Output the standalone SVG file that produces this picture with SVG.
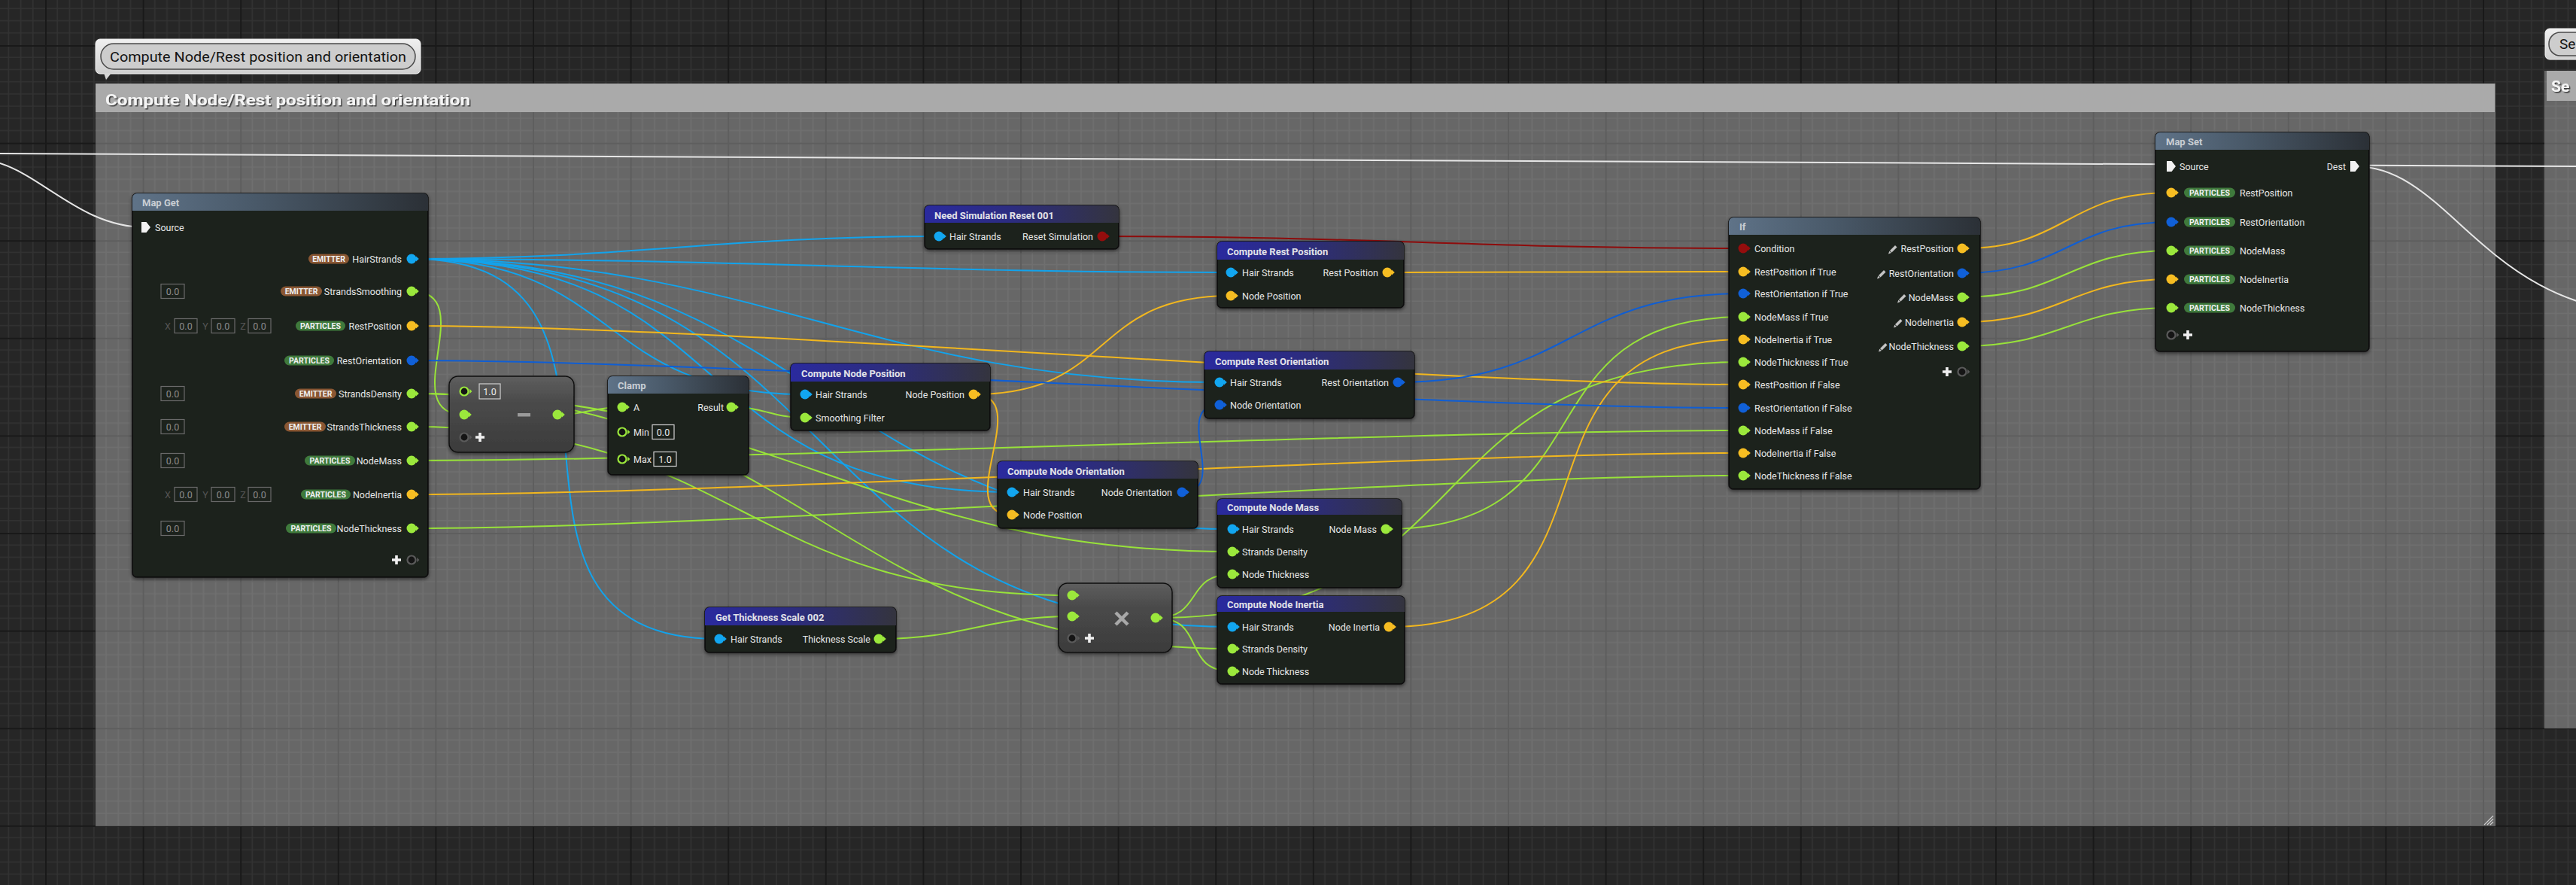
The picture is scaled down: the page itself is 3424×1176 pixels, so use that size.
<svg xmlns="http://www.w3.org/2000/svg" width="3424" height="1176" viewBox="0 0 3424 1176">
<style>
text{font-family:Roboto,"Liberation Sans",sans-serif}
.lbl{font-size:12.5px;fill:#e6e6e6}
.r{text-anchor:end}
.ttl{font-size:13px;font-weight:bold;fill:#e2e2e8}
.ttlg{font-size:13px;font-weight:bold;fill:#c9ced4}
.bdg{font-size:10.5px;font-weight:bold;fill:#f0f0f0;text-anchor:middle}
.be{fill:#8a5733}
.bp{fill:#3f7a3c}
.dv{font-size:12.5px;fill:#8c8c8c;text-anchor:middle}
.bv{font-size:12.5px;fill:#e8e8e8;text-anchor:middle}
.xyz{font-size:12.5px;fill:#555;text-anchor:middle}
.dbox{fill:none;stroke:#6a6a6a;stroke-width:1.2}
.bbox{fill:none;stroke:#d0d0d0;stroke-width:1.2}
.body{fill:#1e201f;stroke:#0b0b0b;stroke-width:1.5;filter:url(#sh)}
.op{fill:url(#opg);stroke:#111;stroke-width:1.5;filter:url(#sh)}
.hf{fill:url(#hfg)}
.hs{fill:url(#hsg)}
.w{fill:none;stroke-width:2;stroke-linecap:round}
.wb{stroke:#12a3ec}
.wg{stroke:#98e23a}
.wy{stroke:#f2b71e}
.wd{stroke:#0f5ed4}
.wr{stroke:#8e0b0b}
.ww{stroke:#e6e6e6}
.pb{fill:#12a6f0}
.pg{fill:#9be83c}
.py{fill:#f6bd22}
.pd{fill:#1060d8}
.pr{fill:#950d0d}
</style>
<defs>
<pattern id="grid" patternUnits="userSpaceOnUse" x="60" y="60" width="129.6" height="129.6">
<rect width="129.6" height="129.6" fill="#262626"/>
<path d="M16.2,0V129.6M32.4,0V129.6M48.6,0V129.6M64.8,0V129.6M81,0V129.6M97.2,0V129.6M113.4,0V129.6M0,16.2H129.6M0,32.4H129.6M0,48.6H129.6M0,64.8H129.6M0,81H129.6M0,97.2H129.6M0,113.4H129.6" stroke="#323232" stroke-width="1.6"/>
<rect x="0" y="0" width="2" height="129.6" fill="#191919"/>
<rect x="0" y="0" width="129.6" height="2" fill="#191919"/>
</pattern>
<linearGradient id="hfg" x1="0" y1="0" x2="1" y2="0"><stop offset="0" stop-color="#2a2a9e"/><stop offset=".45" stop-color="#2c2c80"/><stop offset="1" stop-color="#34343e"/></linearGradient>
<linearGradient id="hsg" x1="0" y1="0" x2="1" y2="0"><stop offset="0" stop-color="#5f7388"/><stop offset=".4" stop-color="#4a5a6a"/><stop offset="1" stop-color="#2b3036"/></linearGradient>
<linearGradient id="opg" x1="0" y1="0" x2="0" y2="1"><stop offset="0" stop-color="#5e5e5e"/><stop offset=".35" stop-color="#4a4a4a"/><stop offset="1" stop-color="#3b3b3b"/></linearGradient>
<linearGradient id="bub" x1="0" y1="0" x2="0" y2="1"><stop offset="0" stop-color="#f0f0f0"/><stop offset="1" stop-color="#cfcfcf"/></linearGradient>
<filter id="sh" x="-10%" y="-10%" width="120%" height="130%"><feDropShadow dx="0" dy="2" stdDeviation="2.5" flood-color="#000" flood-opacity="0.55"/></filter>
<filter id="ts" x="-5%" y="-30%" width="110%" height="160%"><feDropShadow dx="1.5" dy="1.5" stdDeviation="0.5" flood-color="#303030" flood-opacity="0.9"/></filter>
<g id="pin"><circle r="6.5"/><path d="M6,-3.6L9.8,0L6,3.6Z"/></g>
<g id="hpin"><circle r="5.5" fill="#151515" stroke-width="2.2"/><path d="M7.2,-3.3L10.4,0L7.2,3.3Z" stroke="none"/></g>
<path id="mpin" d="M-6,-7H0.5L6,0L0.5,7H-6Z" fill="#f2f2f2"/>
<path id="plus" d="M-1.8,-6H1.8V-1.8H6V1.8H1.8V6H-1.8V1.8H-6V-1.8H-1.8Z" fill="#f0f0f0"/>
<g id="pen" fill="#c4c4c4"><path d="M-4,3L3,-4L5.5,-1.5L-1.5,5.5Z"/><path d="M-4.6,3.6L-2.1,6.1L-6,7.5Z"/></g>
</defs>

<rect width="3424" height="1176" fill="url(#grid)"/>

<g id="comment-main">
<rect x="127" y="111" width="3190" height="987" fill="#ffffff" fill-opacity="0.3"/>
<rect x="127" y="111" width="3189" height="38" fill="#aaaaaa"/>
<text x="140" y="140" font-size="21" font-weight="bold" fill="#f4f4f4" textLength="485" lengthAdjust="spacingAndGlyphs" filter="url(#ts)">Compute Node/Rest position and orientation</text>
<path d="M3302,1096L3314,1084M3306,1096L3314,1088M3310,1096L3314,1092" stroke="#d0d0d0" stroke-width="1.2"/>
<rect x="127" y="52" width="432" height="46" rx="6" fill="url(#bub)" stroke="#f5f5f5"/>
<path d="M138,97L148,97L141,106Z" fill="#d6d6d6"/>
<rect x="134" y="58" width="418" height="34" rx="17" fill="#cdcdcd" stroke="#4a4a4a" stroke-width="1.5"/>
<text x="146" y="82" font-size="19" fill="#141414" textLength="394" lengthAdjust="spacingAndGlyphs">Compute Node/Rest position and orientation</text>
</g>

<g id="comment-right">
<rect x="3382" y="94" width="60" height="874" fill="#ffffff" fill-opacity="0.3"/>
<rect x="3385" y="94" width="60" height="40" fill="#aaaaaa"/>
<text x="3391" y="122" font-size="21" font-weight="bold" fill="#f4f4f4" filter="url(#ts)">Se</text>
<rect x="3383" y="38" width="60" height="41" rx="6" fill="url(#bub)" stroke="#f5f5f5"/>
<rect x="3388" y="43" width="60" height="31" rx="15" fill="#cdcdcd" stroke="#4a4a4a" stroke-width="1.5"/>
<text x="3402" y="65" font-size="19" fill="#141414">Se</text>
</g>

<g id="connectors">
<path class="w ww" d="M0,204C1100,206 2200,221 3424,221"/>
<path class="w ww" d="M0,217C60,236 110,302 194,302"/>
<path class="w ww" d="M3130,221C3260,221 3300,418 3540,418"/>
<path class="w wb" d="M547,344C839,344 956,314 1248,314"/>
<path class="w wb" d="M547,344C954,344 1229,362 1636,362"/>
<path class="w wb" d="M547,344C828,344 789,524 1070,524"/>
<path class="w wb" d="M547,344C990,344 902,654 1345,654"/>
<path class="w wb" d="M547,344C1013,344 1155,508 1621,508"/>
<path class="w wb" d="M547,344C1091,344 1094,703 1638,703"/>
<path class="w wb" d="M547,344C1143,344 1042,833 1638,833"/>
<path class="w wb" d="M547,344C913,344 590,849 956,849"/>
<path class="w wg" d="M547,387C641,387 523,551 617,551"/>
<path class="w wg" d="M741,551C779,551 789,541 827,541"/>
<path class="w wg" d="M972,541C1017,541 1025,555 1070,555"/>
<path class="w wg" d="M547,523C1031,523 1154,733 1638,733"/>
<path class="w wg" d="M547,523C1083,523 1102,862 1638,862"/>
<path class="w wg" d="M547,567C988,567 984,791 1425,791"/>
<path class="w wg" d="M1168,849C1283,849 1310,819 1425,819"/>
<path class="w wg" d="M1536,821C1600,821 1574,763 1638,763"/>
<path class="w wg" d="M1536,821C1605,821 1569,892 1638,892"/>
<path class="w wg" d="M1536,821C1984,821 1869,481 2317,481"/>
<path class="w wg" d="M1842,703C2145,703 2014,421 2317,421"/>
<path class="w wg" d="M547,612C963,612 1901,572 2317,572"/>
<path class="w wg" d="M547,702C975,702 1889,632 2317,632"/>
<path class="w wg" d="M2608,395C2744,395 2750,333 2886,333"/>
<path class="w wg" d="M2608,460C2740,460 2754,409 2886,409"/>
<path class="w wy" d="M547,433C978,433 1886,511 2317,511"/>
<path class="w wy" d="M547,657C969,657 1895,602 2317,602"/>
<path class="w wy" d="M1294,524C1483,524 1447,393 1636,393"/>
<path class="w wy" d="M1294,524C1378,524 1261,684 1345,684"/>
<path class="w wy" d="M1844,362C2034,362 2127,361 2317,361"/>
<path class="w wy" d="M1846,833C2187,833 1976,451 2317,451"/>
<path class="w wy" d="M2608,330C2749,330 2745,256 2886,256"/>
<path class="w wy" d="M2608,428C2742,428 2752,371 2886,371"/>
<path class="w wd" d="M547,479C972,479 1892,542 2317,542"/>
<path class="w wd" d="M1571,654C1637,654 1555,538 1621,538"/>
<path class="w wd" d="M1858,508C2089,508 2086,390 2317,390"/>
<path class="w wd" d="M2608,363C2746,363 2748,295 2886,295"/>
<path class="w wr" d="M1465,314C1812,314 1970,330 2317,330"/>
</g>

<g id="map-get">
<rect class="body" x="176" y="257" width="393" height="510" rx="6"/>
<path class="hs" d="M176,280V263a6,6 0 0 1 6,-6H563a6,6 0 0 1 6,6V280Z"/>
<text class="ttlg" x="189" y="274">Map Get</text>
<use href="#mpin" x="194" y="302"/>
<text class="lbl" x="206" y="306.5">Source</text>
<rect class="be" x="410" y="337.5" width="54" height="13" rx="6.5"/><text class="bdg" x="437" y="348">EMITTER</text>
<text class="lbl r" x="534" y="348.5">HairStrands</text><use href="#pin" x="547" y="344" class="pb"/>
<rect class="dbox" x="214" y="377.5" width="31" height="19"/><text class="dv" x="229.5" y="391.5">0.0</text>
<rect class="be" x="373" y="380.5" width="55" height="13" rx="6.5"/><text class="bdg" x="400.5" y="391">EMITTER</text>
<text class="lbl r" x="534" y="391.5">StrandsSmoothing</text><use href="#pin" x="547" y="387" class="pg"/>
<text class="xyz" x="223" y="437.5">X</text><rect class="dbox" x="232" y="423.5" width="30" height="19"/><text class="dv" x="247" y="437.5">0.0</text>
<text class="xyz" x="273" y="437.5">Y</text><rect class="dbox" x="281" y="423.5" width="31" height="19"/><text class="dv" x="296.5" y="437.5">0.0</text>
<text class="xyz" x="323" y="437.5">Z</text><rect class="dbox" x="330" y="423.5" width="30" height="19"/><text class="dv" x="345" y="437.5">0.0</text>
<rect class="bp" x="393" y="426.5" width="66" height="13" rx="6.5"/><text class="bdg" x="426" y="437">PARTICLES</text>
<text class="lbl r" x="534" y="437.5">RestPosition</text><use href="#pin" x="547" y="433" class="py"/>
<rect class="bp" x="378" y="472.5" width="66" height="13" rx="6.5"/><text class="bdg" x="411" y="483">PARTICLES</text>
<text class="lbl r" x="534" y="483.5">RestOrientation</text><use href="#pin" x="547" y="479" class="pd"/>
<rect class="dbox" x="214" y="513.5" width="31" height="19"/><text class="dv" x="229.5" y="527.5">0.0</text>
<rect class="be" x="392" y="516.5" width="55" height="13" rx="6.5"/><text class="bdg" x="419.5" y="527">EMITTER</text>
<text class="lbl r" x="534" y="527.5">StrandsDensity</text><use href="#pin" x="547" y="523" class="pg"/>
<rect class="dbox" x="214" y="557.5" width="31" height="19"/><text class="dv" x="229.5" y="571.5">0.0</text>
<rect class="be" x="378" y="560.5" width="55" height="13" rx="6.5"/><text class="bdg" x="405.5" y="571">EMITTER</text>
<text class="lbl r" x="534" y="571.5">StrandsThickness</text><use href="#pin" x="547" y="567" class="pg"/>
<rect class="dbox" x="214" y="602.5" width="31" height="19"/><text class="dv" x="229.5" y="616.5">0.0</text>
<rect class="bp" x="405" y="605.5" width="67" height="13" rx="6.5"/><text class="bdg" x="438.5" y="616">PARTICLES</text>
<text class="lbl r" x="534" y="616.5">NodeMass</text><use href="#pin" x="547" y="612" class="pg"/>
<text class="xyz" x="223" y="661.5">X</text><rect class="dbox" x="232" y="647.5" width="30" height="19"/><text class="dv" x="247" y="661.5">0.0</text>
<text class="xyz" x="273" y="661.5">Y</text><rect class="dbox" x="281" y="647.5" width="31" height="19"/><text class="dv" x="296.5" y="661.5">0.0</text>
<text class="xyz" x="323" y="661.5">Z</text><rect class="dbox" x="330" y="647.5" width="30" height="19"/><text class="dv" x="345" y="661.5">0.0</text>
<rect class="bp" x="400" y="650.5" width="66" height="13" rx="6.5"/><text class="bdg" x="433" y="661">PARTICLES</text>
<text class="lbl r" x="534" y="661.5">NodeInertia</text><use href="#pin" x="547" y="657" class="py"/>
<rect class="dbox" x="214" y="692.5" width="31" height="19"/><text class="dv" x="229.5" y="706.5">0.0</text>
<rect class="bp" x="380" y="695.5" width="67" height="13" rx="6.5"/><text class="bdg" x="413.5" y="706">PARTICLES</text>
<text class="lbl r" x="534" y="706.5">NodeThickness</text><use href="#pin" x="547" y="702" class="pg"/>
<use href="#plus" x="527" y="744"/>
<use href="#hpin" x="547" y="744" fill="#5a5a5a" stroke="#5a5a5a"/>
</g>

<g id="subtract">
<rect class="op" x="597" y="500" width="166" height="101" rx="12"/>
<use href="#hpin" x="617" y="520" fill="#9be83c" stroke="#9be83c"/>
<rect class="bbox" x="637" y="510" width="28" height="20"/><text class="bv" x="651" y="524.5">1.0</text>
<use href="#pin" x="617" y="551" class="pg"/>
<use href="#hpin" x="617" y="581" fill="#5a5a5a" stroke="#5a5a5a"/>
<use href="#plus" x="638" y="581"/>
<rect x="688" y="549" width="17" height="4.5" fill="#9a9a9a"/>
<use href="#pin" x="741" y="551" class="pg"/>
</g>

<g id="clamp">
<rect class="body" x="808" y="500" width="187" height="131" rx="6"/>
<path class="hs" d="M808,523V506a6,6 0 0 1 6,-6H989a6,6 0 0 1 6,6V523Z"/>
<text class="ttlg" x="821" y="517">Clamp</text>
<use href="#pin" x="827" y="541" class="pg"/><text class="lbl" x="842" y="545.5">A</text>
<text class="lbl r" x="962" y="545.5">Result</text><use href="#pin" x="972" y="541" class="pg"/>
<use href="#hpin" x="827" y="574" fill="#9be83c" stroke="#9be83c"/><text class="lbl" x="842" y="578.5">Min</text>
<rect class="bbox" x="867" y="564.5" width="29" height="19"/><text class="bv" x="881.5" y="578.5">0.0</text>
<use href="#hpin" x="827" y="610" fill="#9be83c" stroke="#9be83c"/><text class="lbl" x="842" y="614.5">Max</text>
<rect class="bbox" x="869" y="600.5" width="30" height="19"/><text class="bv" x="884" y="614.5">1.0</text>
</g>

<g id="need-simulation-reset">
<rect class="body" x="1229" y="273" width="258" height="58" rx="6"/>
<path class="hf" d="M1229,296V279a6,6 0 0 1 6,-6H1481a6,6 0 0 1 6,6V296Z"/>
<text class="ttl" x="1242" y="291">Need Simulation Reset 001</text>
<use href="#pin" x="1248" y="314" class="pb"/><text class="lbl" x="1262" y="318.5">Hair Strands</text>
<text class="lbl r" x="1453" y="318.5">Reset Simulation</text><use href="#pin" x="1465" y="314" class="pr"/>
</g>

<g id="compute-node-position">
<rect class="body" x="1051" y="483" width="265" height="89" rx="6"/>
<path class="hf" d="M1051,507V489a6,6 0 0 1 6,-6H1310a6,6 0 0 1 6,6V507Z"/>
<text class="ttl" x="1065" y="501">Compute Node Position</text>
<use href="#pin" x="1070" y="524" class="pb"/><text class="lbl" x="1084" y="528.5">Hair Strands</text>
<use href="#pin" x="1070" y="555" class="pg"/><text class="lbl" x="1084" y="559.5">Smoothing Filter</text>
<text class="lbl r" x="1282" y="528.5">Node Position</text><use href="#pin" x="1294" y="524" class="py"/>
</g>

<g id="compute-node-orientation">
<rect class="body" x="1326" y="613" width="266" height="89" rx="6"/>
<path class="hf" d="M1326,636V619a6,6 0 0 1 6,-6H1586a6,6 0 0 1 6,6V636Z"/>
<text class="ttl" x="1339" y="631">Compute Node Orientation</text>
<use href="#pin" x="1345" y="654" class="pb"/><text class="lbl" x="1360" y="658.5">Hair Strands</text>
<use href="#pin" x="1345" y="684" class="py"/><text class="lbl" x="1360" y="688.5">Node Position</text>
<text class="lbl r" x="1558" y="658.5">Node Orientation</text><use href="#pin" x="1571" y="654" class="pd"/>
</g>

<g id="compute-rest-position">
<rect class="body" x="1618" y="321" width="248" height="88" rx="6"/>
<path class="hf" d="M1618,345V327a6,6 0 0 1 6,-6H1860a6,6 0 0 1 6,6V345Z"/>
<text class="ttl" x="1631" y="339">Compute Rest Position</text>
<use href="#pin" x="1636" y="362" class="pb"/><text class="lbl" x="1651" y="366.5">Hair Strands</text>
<use href="#pin" x="1636" y="393" class="py"/><text class="lbl" x="1651" y="397.5">Node Position</text>
<text class="lbl r" x="1832" y="366.5">Rest Position</text><use href="#pin" x="1844" y="362" class="py"/>
</g>

<g id="compute-rest-orientation">
<rect class="body" x="1601" y="467" width="279" height="89" rx="6"/>
<path class="hf" d="M1601,491V473a6,6 0 0 1 6,-6H1874a6,6 0 0 1 6,6V491Z"/>
<text class="ttl" x="1615" y="485">Compute Rest Orientation</text>
<use href="#pin" x="1621" y="508" class="pb"/><text class="lbl" x="1635" y="512.5">Hair Strands</text>
<use href="#pin" x="1621" y="538" class="pd"/><text class="lbl" x="1635" y="542.5">Node Orientation</text>
<text class="lbl r" x="1846" y="512.5">Rest Orientation</text><use href="#pin" x="1858" y="508" class="pd"/>
</g>

<g id="compute-node-mass">
<rect class="body" x="1618" y="663" width="245" height="118" rx="6"/>
<path class="hf" d="M1618,684V669a6,6 0 0 1 6,-6H1857a6,6 0 0 1 6,6V684Z"/>
<text class="ttl" x="1631" y="679">Compute Node Mass</text>
<use href="#pin" x="1638" y="703" class="pb"/><text class="lbl" x="1651" y="707.5">Hair Strands</text>
<use href="#pin" x="1638" y="733" class="pg"/><text class="lbl" x="1651" y="737.5">Strands Density</text>
<use href="#pin" x="1638" y="763" class="pg"/><text class="lbl" x="1651" y="767.5">Node Thickness</text>
<text class="lbl r" x="1830" y="707.5">Node Mass</text><use href="#pin" x="1842" y="703" class="pg"/>
</g>

<g id="compute-node-inertia">
<rect class="body" x="1618" y="792" width="249" height="117" rx="6"/>
<path class="hf" d="M1618,813V798a6,6 0 0 1 6,-6H1861a6,6 0 0 1 6,6V813Z"/>
<text class="ttl" x="1631" y="808">Compute Node Inertia</text>
<use href="#pin" x="1638" y="833" class="pb"/><text class="lbl" x="1651" y="837.5">Hair Strands</text>
<use href="#pin" x="1638" y="862" class="pg"/><text class="lbl" x="1651" y="866.5">Strands Density</text>
<use href="#pin" x="1638" y="892" class="pg"/><text class="lbl" x="1651" y="896.5">Node Thickness</text>
<text class="lbl r" x="1834" y="837.5">Node Inertia</text><use href="#pin" x="1846" y="833" class="py"/>
</g>

<g id="get-thickness-scale">
<rect class="body" x="937" y="807" width="254" height="60" rx="6"/>
<path class="hf" d="M937,831V813a6,6 0 0 1 6,-6H1185a6,6 0 0 1 6,6V831Z"/>
<text class="ttl" x="951" y="825">Get Thickness Scale 002</text>
<use href="#pin" x="956" y="849" class="pb"/><text class="lbl" x="971" y="853.5">Hair Strands</text>
<text class="lbl r" x="1157" y="853.5">Thickness Scale</text><use href="#pin" x="1168" y="849" class="pg"/>
</g>

<g id="multiply">
<rect class="op" x="1407" y="775" width="151" height="92" rx="12"/>
<use href="#pin" x="1425" y="791" class="pg"/>
<use href="#pin" x="1425" y="819" class="pg"/>
<use href="#hpin" x="1425" y="848" fill="#5a5a5a" stroke="#5a5a5a"/>
<use href="#plus" x="1448" y="848"/>
<path d="M1483,814L1499,830M1499,814L1483,830" stroke="#a8a8a8" stroke-width="4.5"/>
<use href="#pin" x="1536" y="821" class="pg"/>
</g>

<g id="if">
<rect class="body" x="2298" y="289" width="334" height="361" rx="6"/>
<path class="hs" d="M2298,312V295a6,6 0 0 1 6,-6H2626a6,6 0 0 1 6,6V312Z"/>
<text class="ttlg" x="2312" y="306">If</text>
<use href="#pin" x="2317" y="330" class="pr"/><text class="lbl" x="2332" y="334.5">Condition</text>
<use href="#pin" x="2317" y="361" class="py"/><text class="lbl" x="2332" y="365.5">RestPosition if True</text>
<use href="#pin" x="2317" y="390" class="pd"/><text class="lbl" x="2332" y="394.5">RestOrientation if True</text>
<use href="#pin" x="2317" y="421" class="pg"/><text class="lbl" x="2332" y="425.5">NodeMass if True</text>
<use href="#pin" x="2317" y="451" class="py"/><text class="lbl" x="2332" y="455.5">NodeInertia if True</text>
<use href="#pin" x="2317" y="481" class="pg"/><text class="lbl" x="2332" y="485.5">NodeThickness if True</text>
<use href="#pin" x="2317" y="511" class="py"/><text class="lbl" x="2332" y="515.5">RestPosition if False</text>
<use href="#pin" x="2317" y="542" class="pd"/><text class="lbl" x="2332" y="546.5">RestOrientation if False</text>
<use href="#pin" x="2317" y="572" class="pg"/><text class="lbl" x="2332" y="576.5">NodeMass if False</text>
<use href="#pin" x="2317" y="602" class="py"/><text class="lbl" x="2332" y="606.5">NodeInertia if False</text>
<use href="#pin" x="2317" y="632" class="pg"/><text class="lbl" x="2332" y="636.5">NodeThickness if False</text>
<use href="#pen" x="2516" y="330"/><text class="lbl r" x="2597" y="334.5">RestPosition</text><use href="#pin" x="2608" y="330" class="py"/>
<use href="#pen" x="2501" y="363"/><text class="lbl r" x="2597" y="367.5">RestOrientation</text><use href="#pin" x="2608" y="363" class="pd"/>
<use href="#pen" x="2528" y="395"/><text class="lbl r" x="2597" y="399.5">NodeMass</text><use href="#pin" x="2608" y="395" class="pg"/>
<use href="#pen" x="2523" y="428"/><text class="lbl r" x="2597" y="432.5">NodeInertia</text><use href="#pin" x="2608" y="428" class="py"/>
<use href="#pen" x="2503" y="460"/><text class="lbl r" x="2597" y="464.5">NodeThickness</text><use href="#pin" x="2608" y="460" class="pg"/>
<use href="#plus" x="2588" y="494"/>
<use href="#hpin" x="2608" y="494" fill="#5a5a5a" stroke="#5a5a5a"/>
</g>

<g id="map-set">
<rect class="body" x="2865" y="176" width="284" height="291" rx="6"/>
<path class="hs" d="M2865,199V182a6,6 0 0 1 6,-6H3143a6,6 0 0 1 6,6V199Z"/>
<text class="ttlg" x="2879" y="193">Map Set</text>
<use href="#mpin" x="2886" y="221"/><text class="lbl" x="2897" y="225.5">Source</text>
<text class="lbl r" x="3118" y="225.5">Dest</text><use href="#mpin" x="3130" y="221"/>
<use href="#pin" x="2886" y="256" class="py"/><rect class="bp" x="2903" y="249.5" width="68" height="13" rx="6.5"/><text class="bdg" x="2937" y="260">PARTICLES</text><text class="lbl" x="2977" y="260.5">RestPosition</text>
<use href="#pin" x="2886" y="295" class="pd"/><rect class="bp" x="2903" y="288.5" width="68" height="13" rx="6.5"/><text class="bdg" x="2937" y="299">PARTICLES</text><text class="lbl" x="2977" y="299.5">RestOrientation</text>
<use href="#pin" x="2886" y="333" class="pg"/><rect class="bp" x="2903" y="326.5" width="68" height="13" rx="6.5"/><text class="bdg" x="2937" y="337">PARTICLES</text><text class="lbl" x="2977" y="337.5">NodeMass</text>
<use href="#pin" x="2886" y="371" class="py"/><rect class="bp" x="2903" y="364.5" width="68" height="13" rx="6.5"/><text class="bdg" x="2937" y="375">PARTICLES</text><text class="lbl" x="2977" y="375.5">NodeInertia</text>
<use href="#pin" x="2886" y="409" class="pg"/><rect class="bp" x="2903" y="402.5" width="68" height="13" rx="6.5"/><text class="bdg" x="2937" y="413">PARTICLES</text><text class="lbl" x="2977" y="413.5">NodeThickness</text>
<use href="#hpin" x="2886" y="445" fill="#5a5a5a" stroke="#5a5a5a"/>
<use href="#plus" x="2908" y="445"/>
</g>
</svg>
